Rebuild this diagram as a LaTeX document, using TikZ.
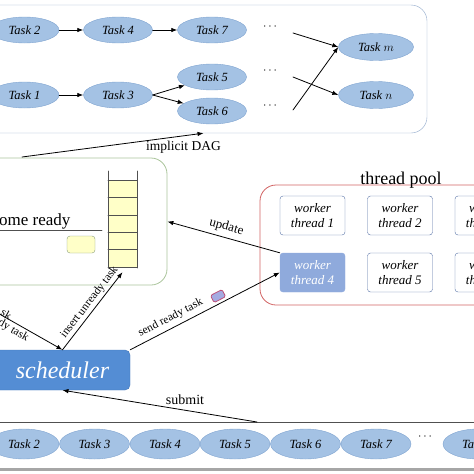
\documentclass[tikz,border=0pt]{standalone}
\usepackage{fontspec}
\setmainfont{Liberation Serif}
\usetikzlibrary{shapes.geometric,arrows.meta}
\definecolor{taskfill}{RGB}{164,194,228}
\definecolor{taskedge}{RGB}{128,164,208}
\definecolor{dagedge}{RGB}{140,165,200}
\definecolor{readyedge}{RGB}{170,196,155}
\definecolor{queuefill}{RGB}{255,255,200}
\definecolor{pooledge}{RGB}{210,100,100}
\definecolor{workeredge}{RGB}{85,112,165}
\definecolor{busyfill}{RGB}{143,170,220}
\definecolor{schedfill}{RGB}{84,141,212}
\definecolor{schededge}{RGB}{68,118,184}
\definecolor{iconfill}{RGB}{165,170,225}
\definecolor{iconedge}{RGB}{190,80,120}
\definecolor{linegray}{RGB}{80,80,80}
\tikzset{
  task/.style={ellipse,draw=taskedge,fill=taskfill,minimum width=69pt,minimum height=26pt,inner sep=0pt,font=\itshape\fontsize{12.5}{12}\selectfont},
  taskb/.style={task,minimum width=70pt,minimum height=30pt},
  worker/.style={draw=workeredge,fill=white,rounded corners=3pt,minimum width=65pt,minimum height=39pt,align=center,inner sep=0pt,font=\itshape\fontsize{13}{15}\selectfont},
  lbl/.style={font=\fontsize{11.5}{12}\selectfont,inner sep=1pt},
  dots/.style={font=\fontsize{13}{13}\selectfont}
}
\begin{document}
\begin{tikzpicture}[line cap=round,line join=round,>={Latex[length=6pt,width=4.5pt]},x=1pt,y=-1pt]
\useasboundingbox (0,0) rectangle (474,474);
\clip (0,0) rectangle (474,474);
% implicit DAG
\node[draw=dagedge,rounded corners=16pt,minimum width=447pt,minimum height=128pt] (dag) at (203.5,69) {};
\node[task] (t2) at (24.5,30) {Task 2};
\node[task] (t4) at (118,30) {Task 4};
\node[task] (t7) at (212,30) {Task 7};
\node[task] (t1) at (24.5,95) {Task 1};
\node[task] (t3) at (118,95) {Task 3};
\node[task] (t5) at (212,77) {Task 5};
\node[task] (t6) at (212,111) {Task 6};
\node[task,minimum width=75pt,minimum height=27pt] (tm) at (376,47) {Task $m$};
\node[task,minimum width=75pt,minimum height=27pt] (tn) at (376,95) {Task $n$};
\node[dots] (d1) at (270,27) {$\cdots$};
\node[dots] (d2) at (270,71) {$\cdots$};
\node[dots] (d3) at (270,106) {$\cdots$};
\coordinate (e1) at (293,33);
\coordinate (e2) at (293,77);
\coordinate (e3) at (293,110);
\draw[->,line width=0.8pt] (t2) -- (t4);
\draw[->,line width=0.8pt] (t4) -- (t7);
\draw[->,line width=0.8pt] (t1) -- (t3);
\draw[->,line width=0.8pt] (t3.east) -- (t5);
\draw[->,line width=0.8pt] (t3.east) -- (t6);
\draw[->,line width=0.8pt] (e1) -- (tm.west);
\draw[->,line width=0.8pt] (e2) -- (tn.west);
\draw[->,line width=0.8pt] (e3) -- (tm.west);
% ready part
\node[draw=readyedge,line width=0.8pt,rounded corners=16pt,minimum width=187pt,minimum height=127pt] (ready) at (73.5,221.5) {};
\node[anchor=base west,inner sep=0pt,font=\fontsize{17}{17}\selectfont] (readytxt) at (-1,225) {ome ready};
\draw[linegray,line width=0.8pt] (-20,230) -- (102,230);
\node[draw=readyedge!80!black,fill=queuefill,rounded corners=3pt,minimum width=28pt,minimum height=17pt] (item) at (81,244.5) {};
\node[fill=queuefill,minimum width=29pt,minimum height=87pt,inner sep=0pt] (queue) at (122.5,223.5) {};
\foreach \i in {0,...,5}
  \draw[linegray,line width=0.6pt] (108,180+17.4*\i) -- (137,180+17.4*\i);
\draw[linegray,line width=0.8pt] (108,171) -- (108,268) (137,171) -- (137,268);
\coordinate (dagfrom) at (22,157);
\draw[->,line width=0.8pt] (dagfrom) -- (dag.south) node[pos=0.89,below=2pt,font=\fontsize{13.5}{14}\selectfont] {implicit DAG};
% thread pool
\node[draw=pooledge,line width=0.8pt,rounded corners=16pt,minimum width=300pt,minimum height=120pt] (pool) at (410,245) {};
\node[anchor=base,inner sep=0pt,font=\fontsize{18}{18}\selectfont] (pooltxt) at (401,184) {thread pool};
\node[worker] (w1) at (312.5,215.5) {worker\\thread 1};
\node[worker] (w2) at (400,215.5) {worker\\thread 2};
\node[worker] (w3) at (487.5,215.5) {worker\\thread 3};
\node[worker,draw=busyfill,fill=busyfill,text=white] (w4) at (312.5,272.5) {worker\\thread 4};
\node[worker] (w5) at (400,272.5) {worker\\thread 5};
\node[worker] (w6) at (487.5,272.5) {worker\\thread 6};
% scheduler
\node[draw=schededge,fill=schedfill,rounded corners=5pt,minimum width=135pt,minimum height=40pt,text=white,font=\itshape\fontsize{24}{24}\selectfont] (sched) at (62.5,370) {scheduler};
\coordinate (leftin) at (-20,303);
\draw[->,line width=0.8pt] (leftin) -- (sched.north)
  node[lbl,pos=0.3,sloped,above=-2pt] {sk}
  node[lbl,pos=0.45,sloped,below=1pt] {dy task};
\draw[->,line width=0.8pt] (sched.north) -- ([yshift=-5pt]queue.south)
  node[lbl,pos=0.55,sloped,above=1pt] {insert unready task};
\draw[->,line width=0.8pt] (sched.north east) -- (w4.west)
  node[lbl,pos=0.3,sloped,above=3pt] {send ready task}
  node[pos=0.61,sloped,above=3pt,draw=iconedge,fill=iconfill,rounded corners=1.5pt,minimum width=13pt,minimum height=8pt,inner sep=0pt] (ticon) {};
\draw[->,line width=0.8pt] (w4.north west) -- (ready.east)
  node[pos=0.5,sloped,above=1pt,font=\fontsize{13}{13}\selectfont] {update};
% submitted tasks
\draw[linegray,line width=0.8pt] (0,422) -- (474,422);
\draw[gray!70,line width=3pt] (0,469) -- (474,469);
\node[taskb] (b2) at (24,444) {Task 2};
\node[taskb] (b3) at (94.5,444) {Task 3};
\node[taskb] (b4) at (165,444) {Task 4};
\node[taskb] (b5) at (235,444) {Task 5};
\node[taskb] (b6) at (305.5,444) {Task 6};
\node[taskb] (b7) at (376,444) {Task 7};
\node[dots] (bd) at (425,437) {$\cdots$};
\node[taskb] (b8) at (478,444) {Ta\phantom{sk n}};
\coordinate (barin) at (257,422);
\draw[->,line width=0.8pt] (barin) -- (sched.south)
  node[pos=0.37,above=2pt,font=\fontsize{14}{14}\selectfont] {submit};
\end{tikzpicture}
\end{document}
